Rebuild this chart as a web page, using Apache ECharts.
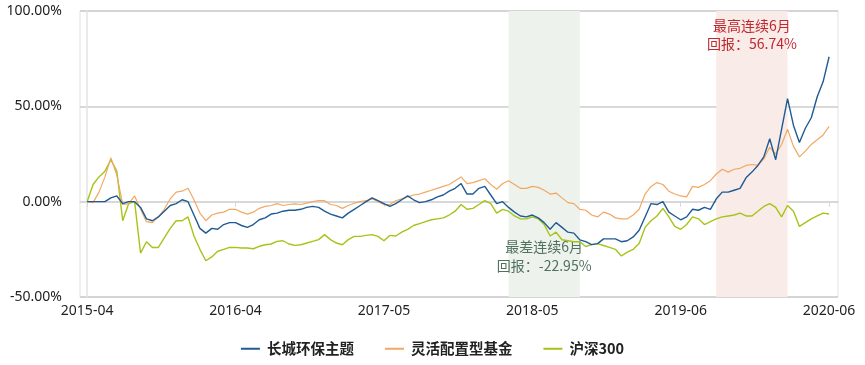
<!DOCTYPE html>
<html>
<head>
<meta charset="utf-8">
<script src="https://cdn.jsdelivr.net/npm/echarts@6/dist/echarts.min.js"></script>
<style>
  html, body { margin: 0; padding: 0; background: #fff; }
  #main { width: 865px; height: 365px; }
</style>
</head>
<body>
<div id="main"></div>
<script>
// 日期（约半月一个点）
var dates = [
  '2015-04-08','2015-04-23','2015-05-08','2015-05-22','2015-06-05','2015-06-19','2015-07-03','2015-07-17','2015-07-31','2015-08-14',
  '2015-08-28','2015-09-11','2015-09-25','2015-10-12','2015-10-26','2015-11-09','2015-11-23','2015-12-07','2015-12-21','2016-01-04',
  '2016-01-18','2016-02-01','2016-02-22','2016-03-07','2016-03-21','2016-04-05','2016-04-20','2016-05-05','2016-05-20','2016-06-06',
  '2016-06-21','2016-07-06','2016-07-21','2016-08-05','2016-08-22','2016-09-06','2016-09-22','2016-10-13','2016-10-28','2016-11-14',
  '2016-11-29','2016-12-14','2016-12-29','2017-01-16','2017-02-06','2017-02-21','2017-03-08','2017-03-23','2017-04-10','2017-04-25',
  '2017-05-11','2017-05-25','2017-06-09','2017-06-23','2017-07-07','2017-07-21','2017-08-04','2017-08-18','2017-09-01','2017-09-15',
  '2017-09-29','2017-10-20','2017-11-03','2017-11-17','2017-12-01','2017-12-15','2017-12-29','2018-01-15','2018-01-29','2018-02-12',
  '2018-03-05','2018-03-19','2018-04-03','2018-04-18','2018-05-03','2018-05-17','2018-06-01','2018-06-15','2018-07-02','2018-07-17',
  '2018-08-01','2018-08-16','2018-08-31','2018-09-17','2018-10-09','2018-10-24','2018-11-08','2018-11-23','2018-12-10','2018-12-25',
  '2019-01-10','2019-01-25','2019-02-15','2019-03-04','2019-03-19','2019-04-03','2019-04-19','2019-05-07','2019-05-22','2019-06-06',
  '2019-06-21','2019-07-05','2019-07-19','2019-08-02','2019-08-16','2019-08-30','2019-09-16','2019-10-08','2019-10-22','2019-11-05',
  '2019-11-19','2019-12-03','2019-12-17','2019-12-31','2020-01-15','2020-02-05','2020-02-19','2020-03-04','2020-03-18','2020-04-01',
  '2020-04-16','2020-04-30','2020-05-18','2020-06-01','2020-06-15','2020-06-29'
];
// 坐标轴上显示的日期
var labelDates = ['2015-04-08','2016-04-05','2017-05-11','2018-05-17','2019-06-21','2020-06-29'];

// 累计收益率（%）
var fund = [
  0,0,0,0,2,3,-1,0,0,-3,
  -9,-10,-8,-5,-2,-1,1,0,-7,-14,
  -16.5,-14,-14.5,-12,-11,-11,-12.5,-13.5,-12,-9.5,
  -8.5,-6.5,-6,-5,-4.5,-4.5,-4,-3,-2.5,-3,
  -5,-6.5,-7.5,-8.5,-6,-4,-2,0,2,0.5,
  -1,-2.5,-1,1,3,1,-0.5,0,1,2.5,
  3.5,5.5,7,9.5,4,4,7,8,3.5,-1,
  0,-3,-5.5,-7.5,-8,-7,-8.5,-11,-14.5,-11,
  -13.5,-16,-16.5,-20,-21,-22.5,-22,-19.5,-19.5,-19.5,
  -21,-20.5,-18.5,-15,-8,-1,-1.5,0,-5.5,-7.5,
  -9.5,-8,-4,-4.5,-3,-4,1.5,5,5,6,
  7,12.5,15.5,19,23.5,33,22,38,54,40,
  31,38.5,44,55,63,76
];
var peer = [
  0,-0.5,5,13,23,14,-1.5,-1,3,-4,
  -10.5,-11,-8,-4,1.5,5,5.5,7,1,-6,
  -10,-7,-6,-5.5,-4,-4,-5.5,-6.5,-5.5,-3.5,
  -2.5,-2,-1,-2,-1.5,-1.2,-1.5,-0.8,0,0.5,
  0.5,-1.5,-2,-3.5,-2,-0.8,0,0.5,1.5,0,
  -1.5,-1.5,0.5,1.5,2.5,3.5,4,5,6,7,
  8,9,11,13,9.5,10,11,12,9,6.5,
  9.5,11,9,7,7,8,7.5,6,4,4.5,
  2,-0.5,-1,-4,-4.5,-7,-8,-5.5,-6.5,-8.5,
  -9,-9,-7,-4,4,8,10,9,5.5,4,
  3,2.5,8,7.5,9,11,14.5,17,15.5,17,
  17.5,19,19.5,19,22.5,28.5,25,30,38,29,
  23.5,26.5,30,32.5,35,39.5
];
var hs300 = [
  0,9,13,16,22,16,-10,-1,0,-27,
  -21,-24,-24,-19,-14,-10,-10,-8,-18,-25,
  -31,-29,-26,-25,-24,-24,-24.3,-24.3,-24.7,-23.4,
  -22.6,-22.2,-20.8,-20.5,-22.2,-22.9,-22.6,-21.7,-20.8,-19.9,
  -17.3,-19.9,-21.7,-22.6,-19.9,-18.2,-18.2,-17.7,-17.3,-18.2,
  -20.5,-17.7,-18,-16,-14.5,-12.5,-11.5,-10.5,-9.5,-9,
  -8.5,-7,-5,-1.5,-4,-3.5,-1.5,0.5,-1,-6,
  -4,-5,-7.5,-9,-9,-8,-9,-12,-18,-16,
  -20,-20.5,-21,-21,-23.5,-22.5,-22,-23,-24,-25,
  -28.5,-26.5,-25,-22,-13.5,-10,-7.5,-3.5,-8,-13,
  -14.5,-12,-8,-9,-12,-10.5,-9,-8,-7.5,-7,
  -6,-7.5,-7.5,-5,-2.5,-1,-3,-8,-2,-5,
  -13,-11,-9,-7.5,-6,-6.5
];

// 最差 / 最高连续6月区间
var worstPeriod = ['2018-03-19', '2018-09-17'];
var bestPeriod = ['2019-09-16', '2020-03-18'];

var seriesNames = ['长城环保主题', '灵活配置型基金', '沪深300'];
var colors = ['#1f5b92', '#f2a862', '#a6c417'];

const myChart = echarts.init(document.getElementById('main'), null, { renderer: 'canvas' });

const toPairs = function (arr) {
  return arr.map(function (v, i) { return [i, v]; });
};
const idx = function (d) { return dates.indexOf(d); };
const labelIdx = labelDates.map(idx);

const option = {
  animation: false,
  textStyle: { fontFamily: 'Noto Sans, Noto Sans CJK SC' },
  grid: {
    left: 80,
    right: 27,
    top: 11,
    bottom: 68,
    show: true,
    borderColor: '#e3e3e3',
    borderWidth: 1
  },
  legend: {
    bottom: 4,
    left: 'center',
    itemGap: 31,
    itemWidth: 19,
    itemHeight: 2,
    icon: 'rect',
    data: seriesNames,
    textStyle: {
      fontFamily: 'Noto Sans CJK SC',
      fontSize: 14.5,
      fontWeight: 'bold',
      color: '#222',
      padding: [0, 0, 0, 2]
    }
  },
  xAxis: {
    type: 'value',
    min: -1.2,
    max: 126.5,
    axisLine: { lineStyle: { color: '#d8d8d8', width: 1.5 } },
    axisTick: { show: true, customValues: labelIdx, length: 5, lineStyle: { color: '#cfd8e3' } },
    axisLabel: {
      customValues: labelIdx,
      color: '#222',
      fontSize: 14,
      margin: 7,
      formatter: function (v) { return dates[v].slice(0, 7); }
    },
    splitLine: { show: false }
  },
  yAxis: {
    type: 'value',
    min: -50,
    max: 100,
    interval: 50,
    axisLine: { show: true, lineStyle: { color: '#e3e3e3', width: 1.5 } },
    axisTick: { show: false },
    axisLabel: {
      color: '#222',
      fontSize: 14,
      margin: 18,
      formatter: function (v) { return v.toFixed(2) + '%'; }
    },
    splitLine: { lineStyle: { color: '#cccccc', width: 1.5 } }
  },
  series: [
    {
      name: seriesNames[0],
      type: 'line',
      z: 4,
      symbol: 'none',
      color: colors[0],
      lineStyle: { width: 1.4 },
      data: toPairs(fund),
      markArea: {
        silent: true,
        data: [
          [
            {
              xAxis: idx(worstPeriod[0]),
              itemStyle: { color: '#edf2ec' },
              label: {
                show: true,
                position: 'insideBottom',
                distance: 22,
                formatter: '最差连续6月\n回报：-22.95%',
                color: '#51705e',
                fontFamily: 'Noto Sans CJK SC',
                fontSize: 14,
                lineHeight: 19
              }
            },
            { xAxis: idx(worstPeriod[1]) }
          ],
          [
            {
              xAxis: idx(bestPeriod[0]),
              itemStyle: { color: '#f8ebe8' },
              label: {
                show: true,
                position: 'insideTop',
                distance: 6,
                formatter: '最高连续6月\n回报：56.74%',
                color: '#c0282f',
                fontFamily: 'Noto Sans CJK SC',
                fontSize: 14,
                lineHeight: 18
              }
            },
            { xAxis: idx(bestPeriod[1]) }
          ]
        ]
      }
    },
    {
      name: seriesNames[1],
      type: 'line',
      z: 3,
      symbol: 'none',
      color: colors[1],
      lineStyle: { width: 1.2 },
      data: toPairs(peer)
    },
    {
      name: seriesNames[2],
      type: 'line',
      z: 2,
      symbol: 'none',
      color: colors[2],
      lineStyle: { width: 1.4 },
      data: toPairs(hs300)
    }
  ]
};
myChart.setOption(option);
</script>
</body>
</html>
